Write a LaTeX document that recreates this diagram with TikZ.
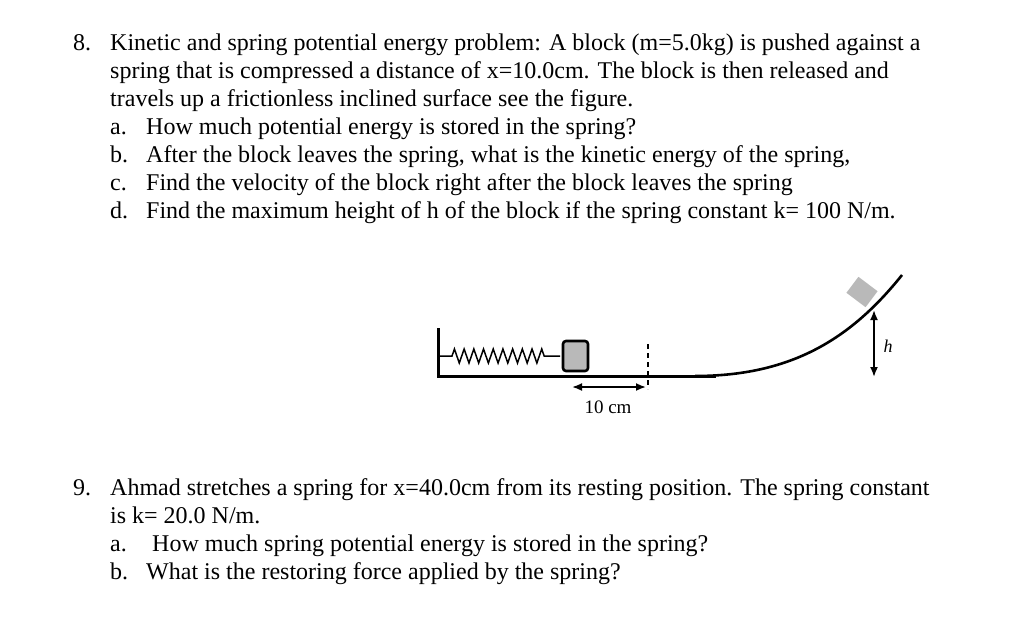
\documentclass[tikz,border=0pt]{standalone}
\usepackage{fontspec}
\setmainfont{Liberation Serif}
\usetikzlibrary{arrows.meta,decorations.pathmorphing}
\begin{document}
\begin{tikzpicture}[x=1pt,y=-1pt,
  txt/.style={anchor=base west,inner sep=0pt,font=\fontsize{24}{28}\selectfont},
  thick line/.style={line width=3pt},
  arr/.style={line width=1.8pt,{Latex[length=10pt,width=8pt]}-{Latex[length=10pt,width=8pt]}}]
\useasboundingbox (0,0) rectangle (1024,630);
\node[txt] (n8) at (73,50) {8.};
\node[txt] (l1) at (110,50) {Kinetic and spring potential energy problem: A block (m=5.0kg) is pushed against a};
\node[txt] (l2) at (110,78) {spring that is compressed a distance of x=10.0cm. The block is then released and};
\node[txt] (l3) at (110,106) {travels up a frictionless inclined surface see the figure.};
\node[txt] (a1) at (110,134) {a.};
\node[txt] (a2) at (146,134) {How much potential energy is stored in the spring?};
\node[txt] (b1) at (110,162) {b.};
\node[txt] (b2) at (146,162) {After the block leaves the spring, what is the kinetic energy of the spring,};
\node[txt] (c1) at (110,190) {c.};
\node[txt] (c2) at (146,190) {Find the velocity of the block right after the block leaves the spring};
\node[txt] (d1) at (110,218) {d.};
\node[txt] (d2) at (146,218) {Find the maximum height of h of the block if the spring constant k= 100 N/m.};
\node[txt] (n9) at (73,495) {9.};
\node[txt] (m1) at (110,495) {Ahmad stretches a spring for x=40.0cm from its resting position. The spring constant};
\node[txt] (m2) at (110,523) {is k= 20.0 N/m.};
\node[txt] (e1) at (110,551) {a.};
\node[txt] (e2) at (152,551) {How much spring potential energy is stored in the spring?};
\node[txt] (f1) at (110,579) {b.};
\node[txt] (f2) at (146,579) {What is the restoring force applied by the spring?};
% figure
\draw[thick line] (438,328) -- (438,376) -- (716,376);
\draw[line width=2.6pt] (695,376) .. controls (790,376) and (850,340) .. (902,275);
\draw[line width=1.5pt] (438,356) -- (452,356)
  decorate[decoration={zigzag,segment length=9.7pt,amplitude=7pt}]{-- (548,356)} -- (553,356) -- (560,356);
\node[draw,line width=2.6pt,fill=gray!55,rounded corners=3pt,minimum width=25pt,minimum height=30pt,inner sep=0pt] (blk) at (575.5,356) {};
\node[fill=gray!55,rotate=-37,minimum width=24pt,minimum height=20pt,inner sep=0pt] (blk2) at (862,292) {};
\draw[dashed,line width=1.8pt,dash pattern=on 5pt off 4pt] (648,344) -- (648,389);
\coordinate (da) at (572,387); \coordinate (db) at (646,387);
\draw[arr] (da) -- (db);
\node[font=\fontsize{19}{22}\selectfont] (cm) at (608,407) {10 cm};
\coordinate (ha) at (874,310); \coordinate (hb) at (874,377);
\draw[arr] (ha) -- (hb);
\node[font=\itshape\fontsize{18}{20}\selectfont] (h) at (888,346) {h};
\end{tikzpicture}
\end{document}
